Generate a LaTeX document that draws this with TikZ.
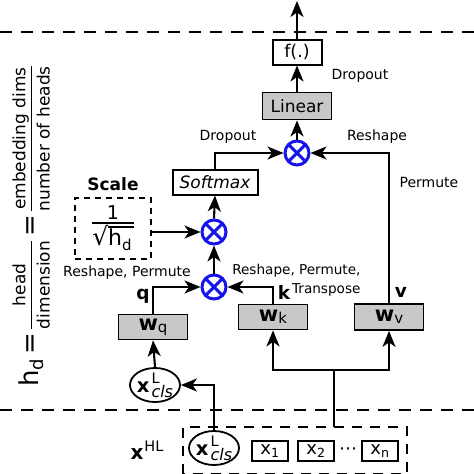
\documentclass[tikz,border=0pt]{standalone}
\usepackage{fontspec}
\setmainfont{DejaVu Sans}
\usetikzlibrary{arrows.meta,shapes.geometric}
\definecolor{boxgray}{RGB}{200,200,200}
\definecolor{multblue}{RGB}{20,20,235}
\setlength\arrayrulewidth{1.4pt}
\newcommand\fsz[2]{\fontsize{#1}{#2}\selectfont}
\newcommand\myfrac[2]{\begin{tabular}{@{}c@{}}#1\\\hline \rule{0pt}{17.5pt}#2\end{tabular}}
\newcommand\xcls{\smash{\makebox[0pt]{\raisebox{-7pt}{\fsz{19.5}{19}\textbf{x}\kern2pt\rlap{\raisebox{9pt}{\fsz{14.5}{14}L}}\raisebox{-5pt}{\fsz{16}{15}\textit{cls}}}}}}
\newcommand\wlab[1]{{\fsz{21}{21}\bfseries w}\raisebox{-2pt}{\fsz{15}{15}#1}}
\begin{document}
\begin{tikzpicture}[x=1pt,y=-1pt,
 ln/.style={line width=2.1pt},
 arr/.style={line width=2.1pt,-{Stealth[length=16pt,width=13pt,inset=4.5pt]}},
 wbox/.style={draw,line width=2pt,minimum width=49pt,minimum height=25pt,inner sep=0pt},
 gbox/.style={draw,line width=1.8pt,fill=boxgray,minimum width=69pt,minimum height=26pt,inner sep=0pt},
 sbox/.style={draw,line width=2pt,minimum width=36pt,minimum height=20pt,inner sep=0pt,font=\fsz{18}{18}},
 mult/.style={circle,draw=multblue,line width=3pt,minimum size=24pt,inner sep=0pt,
   path picture={\draw[multblue,line width=3pt] (path picture bounding box.north west)--(path picture bounding box.south east) (path picture bounding box.north east)--(path picture bounding box.south west);}},
 ell/.style={ellipse,draw,line width=1.8pt,minimum width=50pt,minimum height=34pt,inner sep=0pt},
 lbl/.style={font=\fsz{14}{19}},
 bl/.style={font=\fsz{18.5}{18}\bfseries},
 dline/.style={line width=2.2pt,dash pattern=on 12pt off 9pt},
]
\useasboundingbox (0,0) rectangle (474,474);
% dashed separators
\draw[dline] (0,32) -- (474,32);
\draw[dline] (0,410) -- (474,410);
% nodes
\node[wbox,font=\fsz{17.5}{18}] (f) at (297,52) {f(.)};
\node[gbox,minimum height=27pt,font=\fsz{17}{18}] (lin) at (297,106) {Linear};
\node[mult] (m3) at (297,153) {};
\node[wbox,minimum width=85pt,font=\fsz{17}{17}\itshape] (soft) at (215,182) {Softmax};
\node[mult] (m2) at (214,232) {};
\node[mult] (m1) at (214,287) {};
\node[draw,line width=1.6pt,dash pattern=on 6pt off 5pt,minimum width=76pt,minimum height=61pt,inner sep=0pt] (sc) at (113,228.5)
  {\begin{tabular}{@{}c@{}}\fsz{19}{19}1\\[-1pt]\hline \rule{0pt}{22pt}\fsz{25}{25}√\vbox{\hrule height 1.4pt\kern1.5pt\hbox{\fsz{22}{22}h\raisebox{-5pt}{\fsz{15}{15}d}\kern2pt}}\end{tabular}};
\node[font=\fsz{17}{17}\bfseries] (sclbl) at (113,184) {Scale};
\node[lbl] (rp1) at (127,273) {Reshape, Permute};
\node[gbox,minimum height=25pt] (wq) at (153,327) {\wlab{q}};
\node[gbox,minimum height=25pt] (wk) at (273,317) {\wlab{k}};
\node[gbox] (wv) at (389,317) {\wlab{v}};
\node[ell] (xq) at (155,385) {\xcls};
\node[bl] (ql) at (143,296) {q};
\node[bl] (kl) at (284,292) {k};
\node[bl] (vl) at (401,292) {v};
\node[lbl,font=\fsz{13.6}{19},align=right,anchor=east] (rp2) at (364,280) {Reshape, Permute,\\Transpose};
\node[lbl] (d1) at (228,137) {Dropout};
\node[lbl] (d2) at (360,76) {Dropout};
\node[lbl] (rs) at (377,137) {Reshape};
\node[lbl] (pm) at (429,182) {Permute};
% bottom input box
\draw[line width=2pt,dash pattern=on 10pt off 8pt] (183,474) rectangle (407,427);
\node[ell] (xb) at (214,448) {\xcls};
\node[sbox] (x1) at (270,451) {x\textsubscript{1}};
\node[sbox] (x2) at (316,451) {x\textsubscript{2}};
\node[font=\fsz{18}{18}] (dots) at (348,451) {⋯};
\node[sbox] (xn) at (380,451) {x\textsubscript{n}};
\node[font=\fsz{20}{20}] (xhl) at (147,450) {\textbf{x}\kern1pt\raisebox{8pt}{\fsz{14.5}{14}HL}};
% left formula
\node[rotate=90,inner sep=0pt,anchor=base] (hd) at (38,226.5) {\fsz{26}{26}h\raisebox{-5pt}{\fsz{18}{18}d}\hspace{4pt}=\hspace{4pt}\fsz{17}{18}\myfrac{head}{dimension}\hspace{4pt}\fsz{26}{26}=\hspace{4pt}\fsz{17}{18}\myfrac{embedding dims}{number of heads}};
% connectors
\coordinate (top) at (297,1);
\draw[arr] (f.north) -- (top);
\draw[arr] (lin.north) -- (f.south);
\draw[arr] (m3.north) -- (lin.south);
\draw[arr] (soft.north) |- (m3.west);
\draw[arr] (wv.north) |- (m3.east);
\draw[arr] (m2.north) -- (soft.south);
\draw[arr] (m1.north) -- (m2.south);
\draw[arr] (sc.east |- m2) -- (m2.west);
\draw[arr] (wq.north) |- (m1.west);
\draw[arr] (wk.north) |- (m1.east);
\draw[arr] (xq.north) -- (wq.south);
\draw[arr] (xb.north) |- (xq.east);
\coordinate (bt) at (334,427);
\coordinate (sp) at (334,370);
\draw[arr] (bt) -- (sp) -| (wk.south);
\draw[arr] (sp) -| (wv.south);
\end{tikzpicture}
\end{document}
